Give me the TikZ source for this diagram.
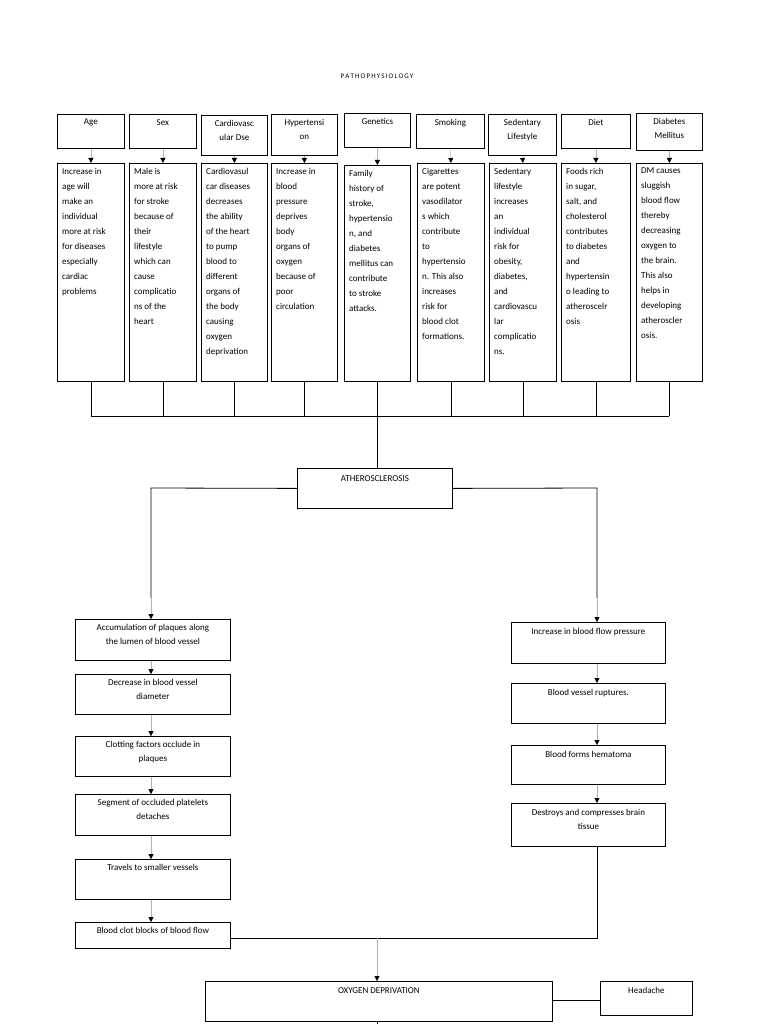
\documentclass[tikz,border=0pt]{standalone}
\usepackage{fontspec}
\setmainfont{Carlito}
\usetikzlibrary{arrows.meta}
\begin{document}
\begin{tikzpicture}[x=1pt,y=-1pt,
 bx/.style={draw,thick,minimum width=#1,inner sep=0pt,anchor=north west},
 txt/.style={anchor=north,font=\fontsize{9}{14.5}\selectfont,align=center,inner sep=0pt},
 ltxt/.style={anchor=north west,font=\fontsize{9}{15}\selectfont,align=left,inner sep=0pt},
 con/.style={draw=gray!60,thin,-{Triangle[black,length=5pt,width=5pt]}},
 ln/.style={draw,thick}]
\useasboundingbox (0,0) rectangle (768,1024);
\node[font=\fontsize{7}{8}\selectfont] (title) at (377,76) {P\,A\,T\,H\,O\,P\,H\,Y\,S\,I\,O\,L\,O\,G\,Y};
% top boxes
\foreach \n/\x/\w/\yt/\h/\t in {
 a/57/67/114/34/Age, b/129/67/114/34/Sex, c/201/66/115/40/{Cardiovasc\\ular Dse},
 d/271/66/114/41/{Hypertensi\\on}, e/344/66/113/34/Genetics, f/416/68/114/34/Smoking,
 g/488/68/114/41/{Sedentary\\Lifestyle}, h/561/69/114/34/Diet, i/636/66/113/37/{Diabetes\\Mellitus}}{
 \node[bx=\w pt,minimum height=\h pt] (t\n) at (\x,\yt) {};
 \node[txt] at ([yshift=-5pt]t\n.north) {\t};
}
% lower boxes
\foreach \n/\x/\w/\yt/\t in {
 a/57/67/163/{Increase in\\age will\\make an\\individual\\more at risk\\for diseases\\especially\\cardiac\\problems},
 b/129/67/163/{Male is\\more at risk\\for stroke\\because of\\their\\lifestyle\\which can\\cause\\complicatio\\ns of the\\heart},
 c/201/66/163/{Cardiovasul\\car diseases\\decreases\\the ability\\of the heart\\to pump\\blood to\\different\\organs of\\the body\\causing\\oxygen\\deprivation},
 d/271/66/163/{Increase in\\blood\\pressure\\deprives\\body\\organs of\\oxygen\\because of\\poor\\circulation},
 e/344/66/165/{Family\\history of\\stroke,\\hypertensio\\n, and\\diabetes\\mellitus can\\contribute\\to stroke\\attacks.},
 f/417/67/163/{Cigarettes\\are potent\\vasodilator\\s which\\contribute\\to\\hypertensio\\n. This also\\increases\\risk for\\blood clot\\formations.},
 g/489/67/163/{Sedentary\\lifestyle\\increases\\an\\individual\\risk for\\obesity,\\diabetes,\\and\\cardiovascu\\lar\\complicatio\\ns.},
 h/561/69/163/{Foods rich\\in sugar,\\salt, and\\cholesterol\\contributes\\to diabetes\\and\\hypertensin\\o leading to\\atheroscelr\\osis},
 i/636/66/163/{DM causes\\sluggish\\blood flow\\thereby\\decreasing\\oxygen to\\the brain.\\This also\\helps in\\developing\\atheroscler\\osis.}}{
 \node[bx=\w pt,minimum height={381pt-\yt pt}] (l\n) at (\x,\yt) {};
 \node[ltxt] at ([xshift=5pt,yshift=-5pt]l\n.north west) {\t};
 \draw[con] (t\n.south) -- (l\n.north);
}
\coordinate (bus) at (377,416);
\foreach \n in {a,b,c,d,e,f,g,h,i}{\draw[ln] (l\n.south) -- (l\n.south |- bus);}
\draw[ln] (la.south |- bus) -- (li.south |- bus);
\node[bx=155pt,minimum height=40pt] (ath) at (297,468) {};
\node[txt] at ([yshift=-7pt]ath.north) {ATHEROSCLEROSIS};
\draw[ln] (le.south |- bus) -- (ath.north -| le.south);
% left column
\foreach \n/\yt/\h/\t in {L1/619/41/{Accumulation of plaques along\\the lumen of blood vessel},
 L2/674/40/{Decrease in blood vessel\\diameter}, L3/736/40/{Clotting factors occlude in\\plaques},
 L4/794/41/{Segment of occluded platelets\\detaches}, L5/859/40/{Travels to smaller vessels},
 L6/922/26/{Blood clot blocks of blood flow}}{
 \node[bx=155pt,minimum height=\h pt] (\n) at (75,\yt) {};
 \node[txt] at ([yshift=-5pt]\n.north) {\t};
}
\foreach \n/\yt/\h/\t in {R1/622/41/{Increase in blood flow pressure},
 R2/683/40/{Blood vessel ruptures.}, R3/745/39/{Blood forms hematoma},
 R4/803/43/{Destroys and compresses brain\\tissue}}{
 \node[bx=154pt,minimum height=\h pt] (\n) at (511,\yt) {};
 \node[txt] at ([yshift=-6pt]\n.north) {\t};
}
\coordinate (lc) at (151,488);
\coordinate (rc) at (597,488);
\draw[ln] (ath.west) -- (lc) -- (lc |- 0,598);
\draw[con] (lc |- 0,597) -- (lc |- L1.north);
\draw[ln] (ath.east) -- (rc) -- (rc |- 0,598);
\draw[con] (rc |- 0,597) -- (rc |- R1.north);
\draw[con] (L1.south -| lc) -- (L2.north -| lc);
\draw[con] (L2.south -| lc) -- (L3.north -| lc);
\draw[con] (L3.south -| lc) -- (L4.north -| lc);
\draw[con] (L4.south -| lc) -- (L5.north -| lc);
\draw[con] (L5.south -| lc) -- (L6.north -| lc);
\draw[con] (R1.south -| rc) -- (R2.north -| rc);
\draw[con] (R2.south -| rc) -- (R3.north -| rc);
\draw[con] (R3.south -| rc) -- (R4.north -| rc);
\coordinate (j) at (377,938);
\draw[ln] (L6.east |- j) -- (j -| rc) -- (R4.south -| rc);
\node[bx=347pt,minimum height=40pt] (ox) at (205,981) {};
\node[txt] at ([yshift=-6pt]ox.north) {OXYGEN DEPRIVATION};
\draw[con] (j) -- (ox.north -| j);
\node[bx=92pt,minimum height=34pt] (hd) at (600,981) {};
\node[txt] at ([yshift=-6pt]hd.north) {Headache};
\draw[ln] (ox.east |- 0,1000) -- (hd.west |- 0,1000);
\draw[ln] (ox.south -| j) -- ++(0,10);
\end{tikzpicture}
\end{document}
